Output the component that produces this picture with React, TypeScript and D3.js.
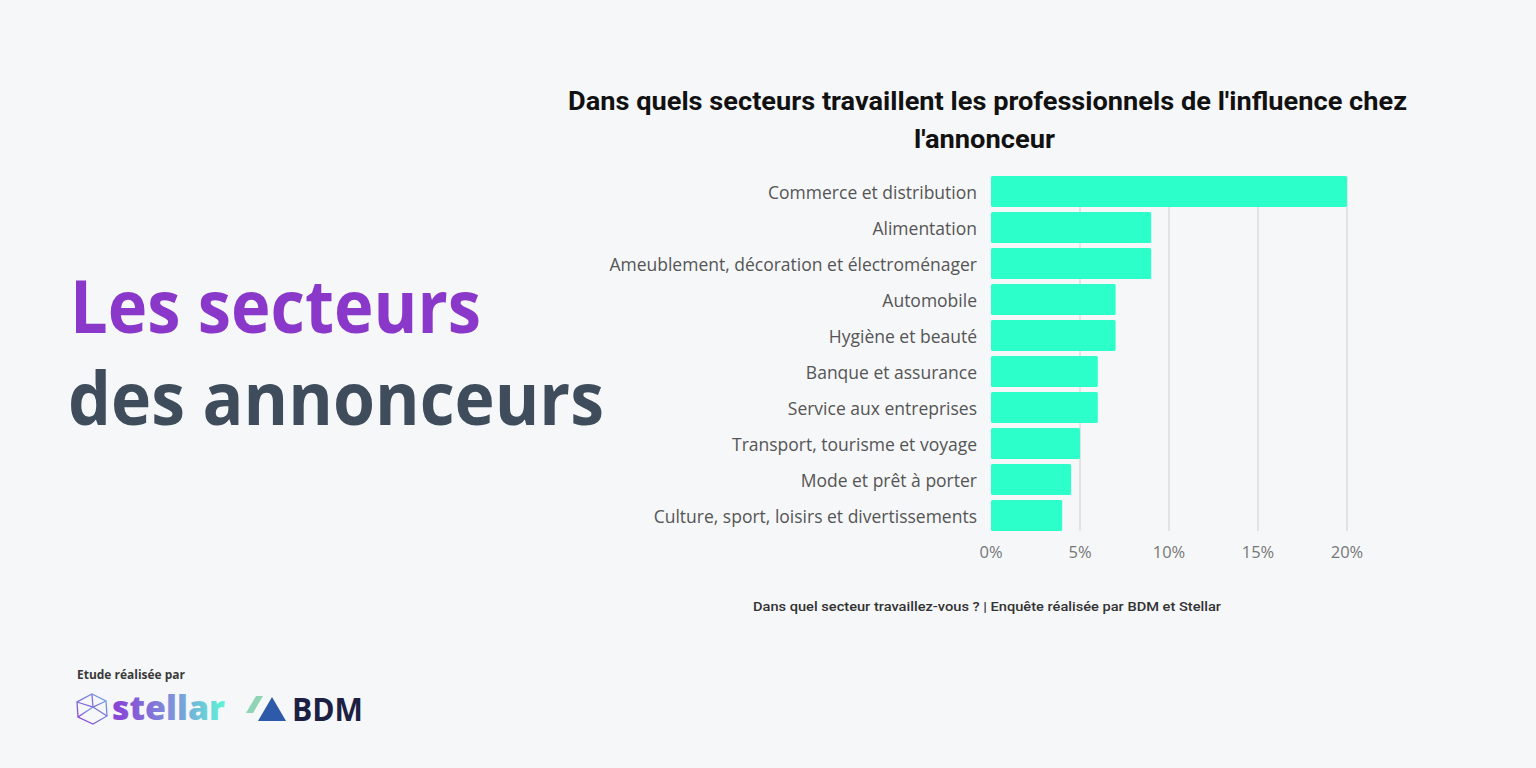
import React from "react";
import * as d3 from "d3";

const categories = [
  "Commerce et distribution",
  "Alimentation",
  "Ameublement, décoration et électroménager",
  "Automobile",
  "Hygiène et beauté",
  "Banque et assurance",
  "Service aux entreprises",
  "Transport, tourisme et voyage",
  "Mode et prêt à porter",
  "Culture, sport, loisirs et divertissements",
];
const values = [20, 9, 9, 7, 7, 6, 6, 5, 4.5, 4];
const ticks = [0, 5, 10, 15, 20];

const W = 1536;
const H = 768;

export default function App() {
  const x = d3.scaleLinear().domain([0, 20]).range([991, 1347]);
  const y = d3.scaleBand<string>().domain(categories).range([176, 531]).paddingInner(0.14).paddingOuter(0.0);

  return (
    <svg width={W} height={H} style={{ position: "absolute", left: 0, top: 0, display: "block" }}>
      <defs>
        <linearGradient id="stellarGrad" x1="0" x2="1" y1="0" y2="0">
          <stop offset="0%" stopColor="#8A3FD6" />
          <stop offset="50%" stopColor="#7F8BDA" />
          <stop offset="100%" stopColor="#5FF5D6" />
        </linearGradient>
        <linearGradient id="hexGrad" x1="0" x2="1" y1="1" y2="0">
          <stop offset="0%" stopColor="#8A3FD6" />
          <stop offset="100%" stopColor="#6FA8E6" />
        </linearGradient>
      </defs>
      <rect x={0} y={0} width={W} height={H} fill="#F6F7F9" />

      {/* Heading */}
      <text x={70} y={333} fontFamily="'Open Sans', sans-serif" fontWeight={700} fontSize={74} fill="#8A38C9" textLength={411} lengthAdjust="spacingAndGlyphs">Les secteurs</text>
      <text x={68} y={425} fontFamily="'Open Sans', sans-serif" fontWeight={700} fontSize={74} fill="#3E4C5B" textLength={536} lengthAdjust="spacingAndGlyphs">des annonceurs</text>

      {/* Chart title */}
      <text x={987.5} y={110} textAnchor="middle" fontFamily="Roboto, sans-serif" fontWeight={700} fontSize={25} fill="#111" textLength={839} lengthAdjust="spacingAndGlyphs">Dans quels secteurs travaillent les professionnels de l'influence chez</text>
      <text x={984.5} y={148} textAnchor="middle" fontFamily="Roboto, sans-serif" fontWeight={700} fontSize={25} fill="#111" textLength={141} lengthAdjust="spacingAndGlyphs">l'annonceur</text>

      {/* Gridlines */}
      {ticks.filter((t) => t > 0).map((t) => (
        <line key={t} x1={x(t)} x2={x(t)} y1={176} y2={531} stroke="#DCDCDC" strokeWidth={1.5} />
      ))}

      {/* Bars */}
      {categories.map((c, i) => (
        <rect key={c} x={x(0)} y={y(c)!} width={x(values[i]) - x(0)} height={y.bandwidth()} fill="#2CFFC9" rx={1.5} />
      ))}

      {/* Category labels */}
      {categories.map((c) => (
        <text key={c} x={977} y={y(c)! + y.bandwidth() / 2 + 1.5} dy="0.35em" textAnchor="end" fontFamily="'Open Sans', sans-serif" fontSize={17.5} fill="#555">{c}</text>
      ))}

      {/* Tick labels */}
      {ticks.map((t) => (
        <text key={t} x={x(t)} y={558} textAnchor="middle" fontFamily="'Open Sans', sans-serif" fontSize={16.5} fill="#777">{t}%</text>
      ))}

      {/* Source */}
      <text x={987} y={611} textAnchor="middle" fontFamily="Roboto, sans-serif" fontWeight={500} fontSize={13.5} fill="#333" textLength={468} lengthAdjust="spacingAndGlyphs">Dans quel secteur travaillez-vous ? | Enquête réalisée par BDM et Stellar</text>

      {/* Footer */}
      <text x={77} y={679} fontFamily="'Open Sans', sans-serif" fontWeight={700} fontSize={12.5} fill="#3a3a3a" textLength={108} lengthAdjust="spacingAndGlyphs">Etude réalisée par</text>

      {/* Stellar logo */}
      <g fill="none" stroke="url(#hexGrad)" strokeWidth={1.3}>
        <polygon points="92,694 106,701 107,716 93,724 78,717 77,702" />
        <polyline points="77,702 93,707 106,701" />
        <polyline points="93,707 93,724" />
        <polyline points="93,707 78,717" />
        <polyline points="93,707 107,716" />
        <polyline points="92,694 93,707" />
      </g>
      <text x={112} y={720} fontFamily="'Open Sans', sans-serif" fontWeight={800} fontSize={33} fill="url(#stellarGrad)" textLength={113} lengthAdjust="spacingAndGlyphs">stellar</text>

      {/* BDM logo */}
      <polygon points="256,696 263,696 253,713 246,713" fill="#8FD4B4" />
      <polygon points="272,697 286,721 258,721" fill="#2D5BAA" />
      <text x={292} y={721} fontFamily="'Open Sans', sans-serif" fontWeight={700} fontSize={33} fill="#1C2043" textLength={71} lengthAdjust="spacingAndGlyphs">BDM</text>
    </svg>
  );
}
